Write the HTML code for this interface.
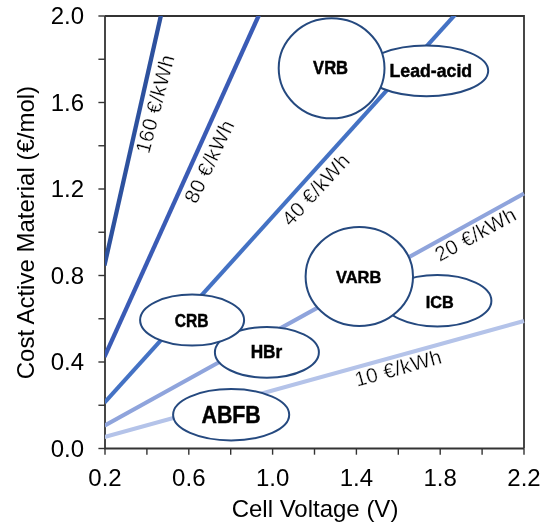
<!DOCTYPE html>
<html><head><meta charset="utf-8"><title>Cost Active Material vs Cell Voltage</title>
<style>html,body{margin:0;padding:0;background:#fff;}svg{display:block;}</style>
</head><body>
<svg width="550" height="528" viewBox="0 0 550 528">
<defs><clipPath id="pc"><rect x="105.0" y="15.9" width="429.0" height="432.5"/></clipPath></defs>
<rect width="550" height="528" fill="#fff"/>
<g stroke="#333333" stroke-width="1.4" fill="none">
<path d="M98.4 448.50H105.0"/>
<path d="M105.00 448.5V454.7"/>
<path d="M98.4 405.25H105.0"/>
<path d="M146.90 448.5V454.7"/>
<path d="M98.4 362.00H105.0"/>
<path d="M188.80 448.5V454.7"/>
<path d="M98.4 318.75H105.0"/>
<path d="M230.70 448.5V454.7"/>
<path d="M98.4 275.50H105.0"/>
<path d="M272.60 448.5V454.7"/>
<path d="M98.4 232.25H105.0"/>
<path d="M314.50 448.5V454.7"/>
<path d="M98.4 189.00H105.0"/>
<path d="M356.40 448.5V454.7"/>
<path d="M98.4 145.75H105.0"/>
<path d="M398.30 448.5V454.7"/>
<path d="M98.4 102.50H105.0"/>
<path d="M440.20 448.5V454.7"/>
<path d="M98.4 59.25H105.0"/>
<path d="M482.10 448.5V454.7"/>
<path d="M98.4 16.00H105.0"/>
<path d="M524.00 448.5V454.7"/>
</g>
<g stroke="#333333" stroke-width="1.8" fill="none">
<path d="M105.0 16.0H524.0V448.5"/>
<path d="M105.0 16.0V448.5H524.0"/>
</g>
<g clip-path="url(#pc)" fill="none" stroke-linecap="butt">
<line x1="104.45" y1="265.47" x2="163.25" y2="5.19" stroke="#2D519E" stroke-width="4.3"/>
<line x1="104.45" y1="356.98" x2="263.40" y2="5.19" stroke="#3A5BB5" stroke-width="4.3"/>
<line x1="104.45" y1="402.74" x2="463.71" y2="5.19" stroke="#4472C4" stroke-width="4.1"/>
<line x1="104.45" y1="425.62" x2="524.00" y2="193.48" stroke="#8FA4DC" stroke-width="4.1"/>
<line x1="104.45" y1="437.06" x2="524.00" y2="320.99" stroke="#B4C3E9" stroke-width="4.2"/>
</g>
<g font-family="'Liberation Sans', Arial, sans-serif" font-size="24" fill="#000">
<text x="84" y="456.90" text-anchor="end">0.0</text>
<text x="105.00" y="485.8" text-anchor="middle">0.2</text>
<text x="84" y="370.40" text-anchor="end">0.4</text>
<text x="188.80" y="485.8" text-anchor="middle">0.6</text>
<text x="84" y="283.90" text-anchor="end">0.8</text>
<text x="272.60" y="485.8" text-anchor="middle">1.0</text>
<text x="84" y="197.40" text-anchor="end">1.2</text>
<text x="356.40" y="485.8" text-anchor="middle">1.4</text>
<text x="84" y="110.90" text-anchor="end">1.6</text>
<text x="440.20" y="485.8" text-anchor="middle">1.8</text>
<text x="84" y="24.40" text-anchor="end">2.0</text>
<text x="524.00" y="485.8" text-anchor="middle">2.2</text>
<text x="315" y="517" text-anchor="middle">Cell Voltage (V)</text>
<text transform="translate(34 232.6) rotate(-90)" text-anchor="middle">Cost Active Material (€/mol)</text>
</g>
<ellipse cx="426.5" cy="70.8" rx="61.7" ry="25.4" fill="#fff" stroke="#25497F" stroke-width="2"/>
<ellipse cx="331.6" cy="68.3" rx="52.9" ry="50.0" fill="#fff" stroke="#25497F" stroke-width="2"/>
<ellipse cx="437.4" cy="300.75" rx="54" ry="25.65" fill="#fff" stroke="#25497F" stroke-width="2"/>
<ellipse cx="359.3" cy="276.5" rx="53.7" ry="49.6" fill="#fff" stroke="#25497F" stroke-width="2"/>
<ellipse cx="266.9" cy="352.3" rx="52.0" ry="25.4" fill="#fff" stroke="#25497F" stroke-width="2"/>
<ellipse cx="192.1" cy="320.1" rx="52.0" ry="25.5" fill="#fff" stroke="#25497F" stroke-width="2"/>
<ellipse cx="231.15" cy="414.75" rx="58.05" ry="25.65" fill="#fff" stroke="#25497F" stroke-width="2"/>
<g font-family="'Liberation Sans', Arial, sans-serif" font-weight="bold" fill="#000" stroke="#000" stroke-width="0.45">
<text transform="translate(313.09 73.6) scale(0.942 1)" font-size="17.59">VRB</text>
<text transform="translate(389.52 76.5) scale(0.990 1)" font-size="17.88">Lead-acid</text>
<text transform="translate(335.89 282.6) scale(0.952 1)" font-size="17.30">VARB</text>
<text transform="translate(425.81 307.5) scale(0.949 1)" font-size="17.15">ICB</text>
<text transform="translate(174.76 326.7) scale(0.886 1)" font-size="17.59">CRB</text>
<text transform="translate(250.65 357.9) scale(0.972 1)" font-size="17.73">HBr</text>
<text transform="translate(201.47 423.4) scale(0.864 1)" font-size="24.71">ABFB</text>
</g>
<g font-family="'Liberation Sans', Arial, sans-serif" font-size="20.6" letter-spacing="0.3" fill="#000" stroke="#fff" stroke-width="0.3">
<text transform="translate(148.98 154.57) rotate(-75.2)">160 €/kWh</text>
<text transform="translate(196.34 204.83) rotate(-64.4)">80 €/kWh</text>
<text transform="translate(290.68 227.26) rotate(-47.4)">40 €/kWh</text>
<text transform="translate(439.82 261.95) rotate(-28.9)">20 €/kWh</text>
<text transform="translate(356.95 386.80) rotate(-15.5)">10 €/kWh</text>
</g>
</svg>
</body></html>
